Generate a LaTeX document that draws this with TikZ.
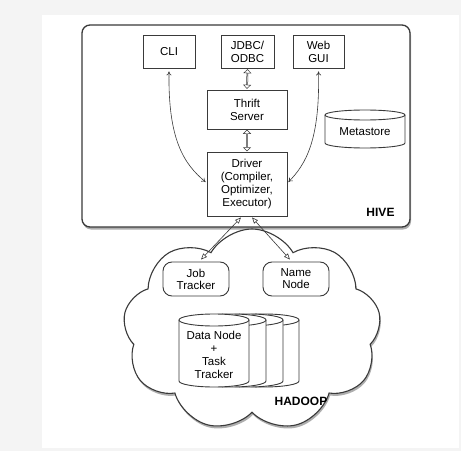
\documentclass[tikz,border=0pt]{standalone}
\usepackage{fontspec}
\setmainfont{Liberation Sans}
\usetikzlibrary{arrows.meta,shapes.symbols,shapes.arrows,shadows,positioning}
\definecolor{bggray}{HTML}{F4F4F4}
\definecolor{ink}{HTML}{3A3A3A}
\begin{document}
\begin{tikzpicture}[x=1pt,y=1pt,
  box/.style={draw=ink, line width=0.9pt, fill=white, align=center, inner sep=1pt,
    font=\fontsize{11.5}{13}\selectfont},
  rbox/.style={box, rounded corners=9pt},
  lbl/.style={font=\fontsize{12}{14}\selectfont\bfseries},
  thinarrow/.style={draw=ink, line width=0.6pt, {To[length=4pt,width=5pt]}-{To[length=4pt,width=5pt]}},
  openarrow/.style={draw=ink, line width=0.6pt, {Triangle[open,length=6pt,width=5pt]}-{Triangle[open,length=6pt,width=5pt]}},
  dblarrow/.style={double arrow, draw=ink, line width=0.5pt, fill=white, sloped, inner sep=0pt,
    minimum width=7pt, double arrow head extend=1.3pt, double arrow head indent=0pt},
  shadowed/.style={drop shadow={shadow xshift=1pt, shadow yshift=-2.5pt, opacity=0.45, fill=black!70}}
]
\useasboundingbox (0,0) rectangle (461,451);
\fill[bggray] (0,0) rectangle (461,451);
\fill[white] (42,3) rectangle (459,436);

% HIVE box
\node[draw=ink, line width=1.3pt, rounded corners=8pt, fill=white, shadowed,
  minimum width=328pt, minimum height=202pt, inner sep=0pt] (hive) at (246,325) {};
\node[lbl] (hivelbl) at (380.5,238.5) {HIVE};

\node[box, minimum width=52pt, minimum height=33pt] (cli) at (169,399.5) {CLI};
\node[box, minimum width=53pt, minimum height=33pt] (jdbc) at (247.5,399.5) {JDBC/\\ODBC};
\node[box, minimum width=51pt, minimum height=33pt] (web) at (318.5,399.5) {Web\\GUI};
\node[box, minimum width=80pt, minimum height=39pt] (thrift) at (247,341.5) {Thrift\\Server};
\node[box, minimum width=80pt, minimum height=64pt] (driver) at (247,267) {Driver\\(Compiler,\\Optimizer,\\Executor)};

% Metastore cylinder
\draw[ink, line width=0.9pt, fill=white] (325,336) -- (325,308) arc[start angle=180, end angle=360, x radius=40pt, y radius=5pt] -- (405,336);
\draw[ink, line width=0.9pt, fill=white] (365,336) ellipse[x radius=40pt, y radius=5pt];
\node[font=\fontsize{11.5}{13}\selectfont] (meta) at (365,319) {Metastore};

% connectors in HIVE
\path (jdbc.south) -- (thrift.north) node[dblarrow, midway, minimum height=19pt] {};
\path (thrift.south) -- (driver.north) node[dblarrow, midway, minimum height=21pt] {};
\draw[thinarrow] ([yshift=-3pt]cli.south) .. controls (168,311) and (184,287) .. ([xshift=-1pt,yshift=2pt]driver.west);
\draw[thinarrow] ([yshift=-3pt]web.south) .. controls (320,311) and (306,287) .. ([xshift=1pt,yshift=2pt]driver.east);

% Hadoop cloud
\node[cloud, cloud puffs=9, cloud puff arc=120, aspect=1.3, draw=ink, line width=1.1pt, fill=white, shadowed,
  minimum width=258pt, minimum height=202pt, inner sep=0pt] (cloud) at (252,121) {};
\node[lbl] (hadooplbl) at (301,49.5) {HADOOP};

\node[rbox, minimum width=66pt, minimum height=34pt, font=\fontsize{11.5}{12}\selectfont] (job) at (196,172) {Job\\Tracker};
\node[rbox, minimum width=66pt, minimum height=34pt, font=\fontsize{11.5}{12}\selectfont] (name) at (296,172) {Name\\Node};

% Data node cylinders (back to front)
\foreach \dx in {50,34,17,0}{
  \draw[ink, line width=0.9pt, fill=white] ({179+\dx},131) -- ({179+\dx},70) arc[start angle=180, end angle=360, x radius=35pt, y radius=6pt] -- ({249+\dx},131);
  \draw[ink, line width=0.9pt, fill=white] ({214+\dx},131) ellipse[x radius=35pt, y radius=6pt];
}
\node[align=center, font=\fontsize{11.5}{13}\selectfont] (data) at (214,96.5) {Data Node\\+\\Task\\Tracker};

% Driver to Hadoop
\draw[openarrow] ([xshift=-6pt,yshift=-1pt]driver.south) -- ([xshift=5pt,yshift=2pt]job.north);
\draw[openarrow] ([xshift=5pt,yshift=-1pt]driver.south) -- ([xshift=-6pt,yshift=2pt]name.north);
\end{tikzpicture}
\end{document}
